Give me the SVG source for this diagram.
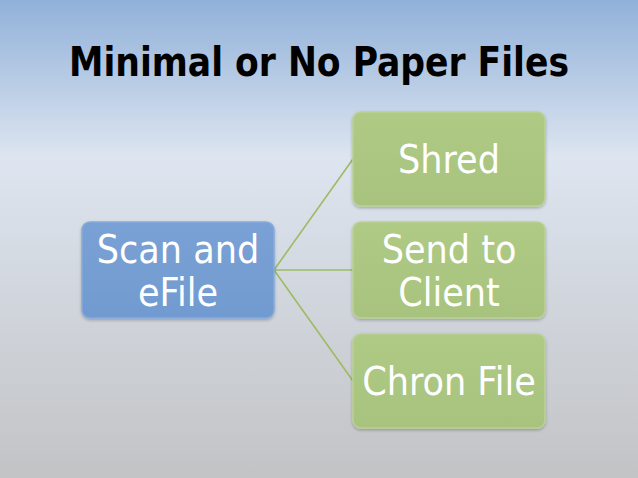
<svg xmlns="http://www.w3.org/2000/svg" width="638" height="478" viewBox="0 0 638 478">
<defs>
<linearGradient id="bg" x1="0" y1="0" x2="0" y2="1">
<stop offset="0" stop-color="#91b1d9"/>
<stop offset="0.33" stop-color="#dde5f0"/>
<stop offset="1" stop-color="#c2c3c5"/>
</linearGradient>
<linearGradient id="blue" x1="0" y1="0" x2="0" y2="1">
<stop offset="0" stop-color="#7aa1d6"/>
<stop offset="1" stop-color="#719bd0"/>
</linearGradient>
<linearGradient id="green" x1="0" y1="0" x2="0" y2="1">
<stop offset="0" stop-color="#afca85"/>
<stop offset="1" stop-color="#a7c37e"/>
</linearGradient>
<filter id="sh" x="-10%" y="-10%" width="120%" height="125%">
<feDropShadow dx="0" dy="1.5" stdDeviation="1.5" flood-color="#000" flood-opacity="0.25"/>
</filter>
</defs>
<style>
.title{font-family:"DejaVu Sans Condensed","DejaVu Sans",Verdana,sans-serif;font-stretch:condensed;font-weight:bold;font-size:41px;fill:#000}
.lbl{font-family:"DejaVu Sans Condensed","DejaVu Sans",sans-serif;font-stretch:condensed;font-size:39px;fill:#fff;text-anchor:middle}
.bbox{fill:url(#blue);stroke:#86aadb;stroke-width:1.5;filter:url(#sh)}
.gbox{fill:url(#green);stroke:#bad194;stroke-width:1.5;filter:url(#sh)}
.conn{stroke:#9dbb62;stroke-width:1.6;fill:none}
</style>
<rect width="638" height="478" fill="url(#bg)"/>
<text class="title" x="319" y="76" text-anchor="middle" textLength="500" lengthAdjust="spacingAndGlyphs">Minimal or No Paper Files</text>
<g id="connectors">
<line class="conn" x1="274" y1="270" x2="353" y2="159"/>
<line class="conn" x1="274" y1="270" x2="353" y2="270"/>
<line class="conn" x1="274" y1="270" x2="353" y2="381"/>
</g>
<g id="scan">
<rect class="bbox" x="82" y="222" width="192" height="96" rx="8"/>
<text class="lbl" x="178" y="263">Scan and</text>
<text class="lbl" x="178" y="306">eFile</text>
</g>
<g id="shred">
<rect class="gbox" x="353" y="112" width="192" height="94" rx="8"/>
<text class="lbl" x="449" y="173">Shred</text>
</g>
<g id="send">
<rect class="gbox" x="353" y="222" width="192" height="96" rx="8"/>
<text class="lbl" x="449" y="263">Send to</text>
<text class="lbl" x="449" y="306">Client</text>
</g>
<g id="chron">
<rect class="gbox" x="353" y="334" width="192" height="94" rx="8"/>
<text class="lbl" x="449" y="395">Chron File</text>
</g>
</svg>
